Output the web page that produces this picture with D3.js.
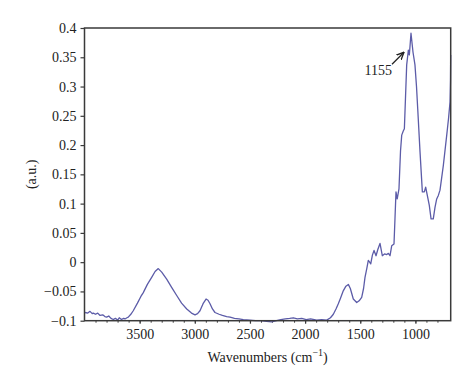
<!DOCTYPE html>
<html>
<head>
<meta charset="utf-8">
<script src="https://cdn.jsdelivr.net/npm/d3@7"></script>
<style>
  html, body { margin: 0; padding: 0; background: #ffffff; }
  svg { display: block; }
  text { font-family: "Liberation Serif", "DejaVu Serif", serif; fill: #222; }
</style>
</head>
<body>
<svg id="chart" width="474" height="387"></svg>
<script>
// ---- Data ----
const wavenumbers = [
  3995, 3970, 3950, 3930, 3920, 3900, 3880, 3859, 3835, 3815, 3799, 3780, 3760, 3739, 3720, 3700,
  3685, 3665, 3645, 3633, 3615, 3603, 3580, 3558, 3520, 3490, 3467, 3430, 3391, 3360, 3331, 3300,
  3255, 3210, 3164, 3120, 3073, 3030, 2998, 2975, 2953, 2925, 2898, 2880, 2862, 2840, 2817, 2780,
  2750, 2711, 2680, 2640, 2600, 2560, 2500, 2450, 2400, 2350, 2303, 2260, 2220, 2180, 2140, 2107,
  2070, 2030, 1990, 1950, 1895, 1850, 1804, 1770, 1744, 1720, 1699, 1680, 1654, 1630, 1608, 1590,
  1563, 1532, 1510, 1487, 1470, 1457, 1440, 1427, 1415, 1405, 1390, 1375, 1357, 1340, 1321, 1300,
  1280, 1260, 1245, 1230, 1215, 1194, 1185, 1176, 1165, 1149, 1135, 1124, 1110, 1100, 1090, 1079,
  1064, 1055, 1040, 1022, 1004, 990, 979, 958, 937, 919, 907, 892, 874, 858, 838, 822,
  807, 792, 777, 747, 716, 700, 686, 682, 680
];
const absorbance = [
  -0.086, -0.087, -0.084, -0.088, -0.087, -0.089, -0.087, -0.091, -0.090, -0.093, -0.094, -0.092, -0.096, -0.098, -0.096, -0.099,
  -0.095, -0.098, -0.096, -0.097, -0.095, -0.094, -0.089, -0.083, -0.070, -0.059, -0.052, -0.038, -0.026, -0.016, -0.011, -0.017,
  -0.029, -0.043, -0.057, -0.070, -0.080, -0.087, -0.090, -0.088, -0.083, -0.071, -0.063, -0.065, -0.071, -0.080, -0.086, -0.089,
  -0.091, -0.093, -0.094, -0.096, -0.097, -0.098, -0.099, -0.100, -0.100, -0.101, -0.102, -0.100, -0.098, -0.097, -0.096, -0.095,
  -0.097, -0.096, -0.098, -0.097, -0.099, -0.098, -0.099, -0.095, -0.089, -0.080, -0.071, -0.062, -0.049, -0.041, -0.038, -0.045,
  -0.063, -0.069, -0.066, -0.060, -0.045, -0.026, -0.010, 0.003, 0.000, -0.003, 0.012, 0.020, 0.011, 0.022, 0.032, 0.011,
  0.014, 0.013, 0.015, 0.011, 0.028, 0.031, 0.075, 0.120, 0.108, 0.125, 0.190, 0.217, 0.224, 0.228, 0.280, 0.337,
  0.362, 0.354, 0.391, 0.359, 0.337, 0.300, 0.262, 0.188, 0.120, 0.120, 0.128, 0.114, 0.097, 0.074, 0.074, 0.094,
  0.108, 0.114, 0.123, 0.165, 0.217, 0.245, 0.274, 0.310, 0.354
];
const xTickValues = [3500, 3000, 2500, 2000, 1500, 1000];
const yTickValues = [-0.1, -0.05, 0, 0.05, 0.1, 0.15, 0.2, 0.25, 0.3, 0.35, 0.4];
const xDomain = [4000, 680];
const yDomain = [-0.1, 0.4];
const annotationLabel = "1155";
const annotationPoint = [1040, 0.391];

// ---- Layout ----
const svg = d3.select("#chart");
const margin = { left: 84.5, right: 474 - 450.7, top: 28, bottom: 387 - 320.7 };
const W = 474, H = 387;

const x = d3.scaleLinear().domain(xDomain).range([margin.left, W - margin.right]);
const y = d3.scaleLinear().domain(yDomain).range([H - margin.bottom, margin.top]);

const frameColor = "#3a3a3a";
const lineColor = "#5c5ca8";

// Y axis
const yAxis = d3.axisLeft(y)
  .tickValues(yTickValues)
  .tickSize(4)
  .tickPadding(4)
  .tickFormat(d => (d < 0 ? "\u2212" : "") + d3.format("")(Math.abs(+d.toFixed(2))));
const gy = svg.append("g").attr("transform", `translate(${margin.left},0)`).call(yAxis);
gy.select(".domain").remove();
gy.selectAll(".tick line").attr("stroke", frameColor).attr("stroke-width", 1.2);
gy.selectAll(".tick text").attr("font-size", 14).style("font-family", "Liberation Serif, serif").attr("fill", "#222");

// X axis minor ticks
const xMinor = d3.axisBottom(x)
  .tickValues(d3.range(3900, 700, -100))
  .tickSize(2)
  .tickFormat("");
const gxm = svg.append("g").attr("transform", `translate(0,${H - margin.bottom})`).call(xMinor);
gxm.select(".domain").remove();
gxm.selectAll(".tick line").attr("stroke", frameColor).attr("stroke-width", 1);

// X axis major
const xAxis = d3.axisBottom(x)
  .tickValues(xTickValues)
  .tickSize(3)
  .tickPadding(5)
  .tickFormat(d3.format("d"));
const gx = svg.append("g").attr("transform", `translate(0,${H - margin.bottom})`).call(xAxis);
gx.select(".domain").remove();
gx.selectAll(".tick line").attr("stroke", frameColor).attr("stroke-width", 1.2);
gx.selectAll(".tick text").attr("font-size", 14).style("font-family", "Liberation Serif, serif").attr("fill", "#222");

// Spectrum line
const pts = wavenumbers.map((w, i) => [w, absorbance[i]]);
const line = d3.line().x(d => x(d[0])).y(d => y(d[1]));
svg.append("path")
  .datum(pts)
  .attr("fill", "none")
  .attr("stroke", lineColor)
  .attr("stroke-width", 1.3)
  .attr("stroke-linejoin", "round")
  .attr("d", line);

// Frame
svg.append("rect")
  .attr("x", margin.left).attr("y", margin.top)
  .attr("width", W - margin.right - margin.left)
  .attr("height", H - margin.bottom - margin.top)
  .attr("fill", "none")
  .attr("stroke", frameColor)
  .attr("stroke-width", 1.5);

// Axis titles
svg.append("text")
  .attr("transform", `translate(33,${(margin.top + H - margin.bottom) / 2}) rotate(-90)`)
  .attr("text-anchor", "middle")
  .attr("dominant-baseline", "middle")
  .attr("font-size", 14)
  .text("(a.u.)");

const xt = svg.append("text")
  .attr("x", (margin.left + W - margin.right) / 2)
  .attr("y", 362)
  .attr("text-anchor", "middle")
  .attr("font-size", 14);
xt.append("tspan").text("Wavenumbers (cm");
xt.append("tspan").attr("dy", -6).attr("font-size", 10).text("\u22121");
xt.append("tspan").attr("dy", 6).text(")");

// Annotation
svg.append("defs").append("marker")
  .attr("id", "arrow")
  .attr("viewBox", "0 0 10 10")
  .attr("refX", 9).attr("refY", 5)
  .attr("markerWidth", 7).attr("markerHeight", 7)
  .attr("orient", "auto")
  .append("path")
  .attr("d", "M0,1 L9,5 L0,9")
  .attr("fill", "none")
  .attr("stroke", "#222")
  .attr("stroke-width", 1.6);

const ax = x(annotationPoint[0]), ay = y(annotationPoint[1]);
svg.append("line")
  .attr("x1", ax - 19).attr("y1", ay + 31)
  .attr("x2", ax - 7).attr("y2", ay + 19)
  .attr("stroke", "#222")
  .attr("stroke-width", 1.2)
  .attr("marker-end", "url(#arrow)");
svg.append("text")
  .attr("x", ax - 19)
  .attr("y", ay + 42)
  .attr("text-anchor", "end")
  .attr("font-size", 14)
  .text(annotationLabel);
</script>
</body>
</html>
